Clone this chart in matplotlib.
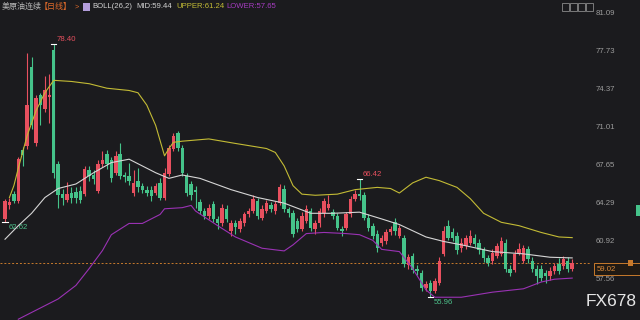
import matplotlib
matplotlib.use("Agg")
import matplotlib.pyplot as plt
from matplotlib.patches import Rectangle

plt.rcParams["font.family"] = ["Liberation Sans", "Noto Sans CJK SC", "DejaVu Sans"]

# daily candles, oldest first
OPEN = [62.9, 64.1, 65.1, 64.5, 69.0, 69.4, 76.4, 69.6, 73.9, 72.7,
        73.7, 77.9, 67.8, 65.1, 64.6, 65.2, 65.3, 65.4, 65.1, 67.2,
        66.8, 65.4, 67.8, 68.7, 68.1, 67.0, 68.7, 66.8, 66.7, 65.2,
        66.3, 65.8, 65.5, 65.5, 65.2, 66.1, 64.8, 66.9, 69.1, 70.5,
        69.2, 66.7, 66.0, 65.5, 64.4, 63.6, 63.2, 64.2, 62.9, 62.5,
        63.8, 61.8, 62.5, 62.0, 62.5, 63.3, 63.6, 64.5, 63.0, 63.6,
        64.1, 63.6, 64.3, 65.6, 63.8, 63.4, 62.7, 62.0, 62.7, 63.6,
        62.0, 62.5, 63.4, 63.9, 63.5, 63.2, 62.0, 62.1, 63.3, 64.7,
        65.1, 65.0, 63.0, 62.3, 61.6, 60.8, 60.9, 61.7, 62.6, 61.4,
        61.2, 58.8, 59.6, 58.5, 58.1, 56.8, 57.2, 56.5, 57.2, 59.8,
        62.3, 61.7, 61.4, 60.3, 60.5, 60.8, 61.2, 60.8, 60.1, 59.4,
        59.2, 59.6, 59.8, 60.8, 58.5, 58.4, 59.9, 59.2, 60.2, 59.2,
        58.5, 58.5, 58.1, 57.8, 58.3, 58.9, 58.7, 59.2, 58.5]
CLOSE = [64.5, 64.4, 64.5, 68.2, 68.6, 73.0, 71.2, 73.6, 73.0, 74.3,
         73.9, 67.0, 65.0, 64.8, 65.1, 64.8, 64.8, 64.6, 67.3, 66.7,
         66.4, 67.8, 68.1, 67.8, 66.5, 68.5, 66.7, 66.6, 66.3, 66.1,
         65.7, 65.5, 65.2, 64.9, 65.8, 64.8, 67.0, 69.2, 70.3, 69.2,
         67.0, 65.2, 65.0, 65.3, 63.6, 63.2, 63.9, 62.9, 62.5, 63.9,
         62.9, 62.5, 62.2, 62.7, 63.3, 63.6, 64.7, 63.2, 63.8, 64.3,
         63.8, 64.2, 65.7, 63.8, 63.4, 61.6, 62.0, 63.2, 63.8, 62.1,
         62.5, 63.6, 64.5, 64.2, 63.2, 62.1, 61.8, 63.3, 64.7, 65.1,
         64.9, 63.0, 62.1, 61.4, 60.3, 61.2, 61.7, 62.0, 61.8, 62.1,
         58.9, 59.5, 58.4, 58.3, 56.8, 57.1, 56.5, 57.4, 59.2, 61.8,
         61.2, 61.2, 60.1, 60.8, 61.2, 61.4, 60.7, 60.1, 59.4, 59.0,
         59.9, 60.5, 60.9, 58.5, 58.1, 59.8, 60.2, 60.3, 59.3, 58.5,
         57.8, 57.7, 57.8, 58.3, 58.7, 58.3, 59.3, 58.5, 59.02]
HIGH = [64.7, 64.8, 65.4, 68.4, 69.3, 77.6, 77.3, 73.9, 74.1, 75.6,
        75.8, 78.40, 68.0, 65.6, 66.2, 65.7, 65.7, 65.8, 67.6, 67.6,
        67.2, 68.1, 68.9, 69.0, 68.4, 68.9, 69.6, 67.1, 67.9, 67.2,
        67.4, 66.1, 65.8, 65.8, 66.1, 66.5, 67.4, 69.5, 70.5, 70.7,
        69.5, 67.0, 66.3, 65.8, 64.7, 63.9, 64.2, 64.5, 63.2, 64.2,
        64.1, 62.8, 62.8, 63.0, 63.5, 63.9, 65.0, 64.8, 64.1, 64.6,
        64.4, 64.5, 66.0, 65.9, 64.0, 63.7, 63.0, 63.5, 64.1, 63.9,
        62.8, 63.9, 64.8, 65.0, 63.8, 63.4, 62.3, 63.5, 64.9, 65.5,
        66.42, 65.3, 63.3, 62.5, 61.9, 61.5, 62.0, 62.3, 63.0, 62.4,
        61.5, 59.8, 59.9, 58.8, 58.4, 57.4, 57.5, 57.7, 59.5, 62.3,
        62.8, 62.1, 61.7, 61.2, 61.5, 61.9, 61.6, 61.1, 60.4, 59.7,
        60.2, 60.8, 61.3, 61.1, 58.8, 60.1, 60.8, 60.6, 60.5, 59.5,
        58.8, 58.8, 58.4, 58.6, 59.0, 59.4, 59.6, 59.5, 59.3]
LOW = [62.62, 63.8, 64.3, 64.3, 67.6, 69.1, 70.9, 69.4, 71.2, 72.4,
       71.4, 66.5, 63.9, 64.1, 64.4, 64.3, 64.3, 64.3, 64.9, 66.3,
       66.0, 65.2, 67.5, 67.3, 66.2, 66.8, 66.4, 66.2, 65.9, 64.9,
       65.3, 65.2, 64.9, 64.5, 65.0, 64.6, 64.6, 66.7, 68.9, 68.9,
       66.7, 64.9, 64.6, 63.9, 63.3, 62.9, 62.9, 62.6, 62.0, 62.3,
       62.6, 61.4, 61.6, 61.7, 62.3, 63.1, 63.4, 62.9, 62.8, 63.4,
       63.5, 63.3, 64.1, 63.5, 63.1, 61.3, 61.7, 61.8, 62.5, 61.8,
       61.6, 62.2, 63.1, 63.7, 62.9, 61.9, 61.4, 61.9, 63.1, 64.5,
       64.6, 62.8, 61.8, 61.1, 60.0, 60.5, 60.7, 61.5, 61.5, 61.2,
       58.6, 58.5, 58.1, 57.9, 56.5, 56.5, 55.96, 56.3, 57.0, 59.6,
       61.0, 60.9, 59.8, 60.0, 60.2, 60.6, 60.4, 59.8, 59.1, 58.7,
       58.9, 59.4, 59.6, 58.2, 57.8, 58.2, 59.7, 59.0, 59.0, 58.2,
       57.1, 57.4, 57.2, 57.5, 58.0, 58.0, 58.5, 58.2, 58.3]

# BOLL(26,2) at these candles
MID_IDX = [0, 3, 6, 9, 12, 16, 20, 24, 28, 32, 34, 37, 40, 44, 51, 57, 63,
           69, 74, 80, 85, 89, 95, 99, 103, 110, 117, 123, 128]
MID_VAL = [61.1, 62.3, 63.4, 64.8, 65.6, 66.0, 67.0, 67.9, 68.2, 67.4, 67.0,
           66.5, 66.8, 66.5, 65.5, 64.8, 64.3, 63.4, 63.4, 63.5, 62.9, 62.4,
           61.3, 60.9, 60.6, 60.0, 59.8, 59.5, 59.44]
UPPER_IDX = [1, 2, 3, 5, 7, 9, 11, 15, 19, 23, 28, 30, 32, 34, 36, 37, 38,
             40, 46, 52, 59, 61, 63, 65, 67, 70, 75, 79, 84, 87, 89, 92, 95,
             98, 102, 105, 108, 112, 116, 121, 125, 128]
UPPER_VAL = [64.8, 65.85, 67.4, 70.3, 72.5, 74.1, 75.2, 75.1, 74.9, 74.5,
             74.3, 74.1, 73.0, 71.2, 68.5, 69.15, 69.7, 69.8, 70.0, 69.6,
             69.15, 68.8, 67.6, 65.85, 65.1, 65.0, 65.1, 65.5, 65.7, 65.6,
             65.2, 66.1, 66.6, 66.3, 65.7, 64.7, 63.4, 62.6, 62.3, 61.7,
             61.3, 61.24]
LOWER_IDX = [3, 8, 12, 16, 19, 22, 24, 28, 31, 33, 35, 36, 40, 42, 43, 48,
             52, 58, 63, 65, 68, 72, 77, 80, 83, 85, 89, 92, 95, 97, 103,
             110, 117, 121, 124, 128]
LOWER_VAL = [54.0, 55.0, 55.8, 57.0, 58.5, 60.1, 61.5, 62.5, 62.5, 62.9,
             63.3, 63.8, 63.9, 64.1, 63.6, 62.3, 61.3, 60.3, 60.06, 60.6,
             61.6, 61.7, 61.6, 61.5, 61.0, 60.2, 60.0, 58.5, 56.6, 55.95,
             55.95, 56.4, 56.7, 57.3, 57.55, 57.65]

TICKS = [81.09, 77.73, 74.37, 71.01, 67.65, 64.29, 60.92, 57.56]
MARK_IDX = [11, 80]      # marked highs
LOWMARK_IDX = [0, 96]    # marked lows
LAST = 59.02

BG = "#1b1b1e"
UP = "#e8505f"
DOWN = "#45c38a"
W, H = 640, 320


def fx(x):
    return x / W


def fy(y):
    return 1 - y / H


fig = plt.figure(figsize=(W / 100, H / 100), dpi=100, facecolor=BG)
ax = fig.add_axes([0, 0, 1, 1], facecolor=BG)
ax.set_xlim(-1.13, 143.3)
ax.set_ylim(53.93, 82.33)
ax.axis("off")

for i, (o, h, l, c) in enumerate(zip(OPEN, HIGH, LOW, CLOSE)):
    col = UP if c >= o else DOWN
    ax.vlines(i, l, h, color=col, linewidth=0.8, zorder=2)
    ax.bar(i, max(abs(c - o), 0.08), bottom=min(o, c), width=0.78,
           color=col, linewidth=0, zorder=3)

ax.plot(MID_IDX, MID_VAL, color="#d6d6d6", lw=0.8, zorder=4)
ax.plot(UPPER_IDX, UPPER_VAL, color="#c3bb35", lw=0.8, zorder=4)
ax.plot(LOWER_IDX, LOWER_VAL, color="#9a32b4", lw=0.8, zorder=4)

# high / low markers
for i in MARK_IDX:
    v = HIGH[i]
    ax.plot([i - 0.6, i + 0.6], [v, v], color="white", lw=0.8, zorder=5)
    ax.annotate(f"{v:.2f}", (i, v), xytext=(2.4, 3.4), textcoords="offset points",
                color="#e5505e", fontsize=5.6, ha="left", va="center")
for i in LOWMARK_IDX:
    v = LOW[i]
    ax.plot([i - 0.6, i + 0.6], [v, v], color="white", lw=0.8, zorder=5)
    ax.annotate(f"{v:.2f}", (i, v), xytext=(2.4, -3.6), textcoords="offset points",
                color="#4dc08a", fontsize=5.6, ha="left", va="center")

# last price line + box
ax.axhline(LAST, xmin=0, xmax=590 / W, color="#c87a2c", lw=0.7, ls=(0, (2, 2)), zorder=1)
tr = ax.get_yaxis_transform()
for t in TICKS:
    ax.text(605 / W, t, f"{t:.2f}", transform=tr, color="#9c9c9c", fontsize=5.6,
            ha="center", va="center")
fig.patches.append(Rectangle((fx(594), fy(275)), 50 / W, 12 / H, transform=fig.transFigure,
                             facecolor="#201a14", edgecolor="#c87a2c", lw=0.7))
fig.text(fx(597), fy(269.5), f"{LAST:.2f}", color="#d98a3a", fontsize=5.6, va="center")
fig.patches.append(Rectangle((fx(628), fy(266)), 5 / W, 6 / H, transform=fig.transFigure,
                             facecolor="#c87a2c", edgecolor="none"))
fig.patches.append(Rectangle((fx(636), fy(216)), 4 / W, 11 / H, transform=fig.transFigure,
                             facecolor=DOWN, edgecolor="none"))

# header line
hy = fy(7)
fig.text(fx(2), hy, "美原油连续", color="#b5b5b5", fontsize=5.8, va="center")
fig.text(fx(40), hy, "【日线】", color="#e06a2a", fontsize=5.8, va="center")
fig.text(fx(75), hy, ">", color="#e06a2a", fontsize=5.2, va="center")
fig.patches.append(Rectangle((fx(83), fy(11)), 7 / W, 8 / H, transform=fig.transFigure,
                             facecolor="#b39ddb", edgecolor="none"))
fig.text(fx(92), hy, "BOLL(26,2)", color="#d2d2d2", fontsize=5.6, va="center")
fig.text(fx(136), hy, f"MID:{MID_VAL[-1]:.2f}", color="#d2d2d2", fontsize=5.6, va="center")
fig.text(fx(176), hy, f"UPPER:{UPPER_VAL[-1]:.2f}", color="#c3bb35", fontsize=5.6, va="center")
fig.text(fx(226), hy, f"LOWER:{LOWER_VAL[-1]:.2f}", color="#a53cc0", fontsize=5.6, va="center")

# toolbar icons top right
for k in range(4):
    fig.patches.append(Rectangle((fx(562 + k * 8), fy(11)), 7 / W, 8 / H,
                                 transform=fig.transFigure, facecolor="none",
                                 edgecolor="#8a8a8a", lw=0.6))

fig.text(fx(611), fy(302), "FX678", color="#e6e6e6", fontsize=12.5,
         ha="center", va="center")

fig.savefig("out.png", dpi=100, facecolor=BG)
